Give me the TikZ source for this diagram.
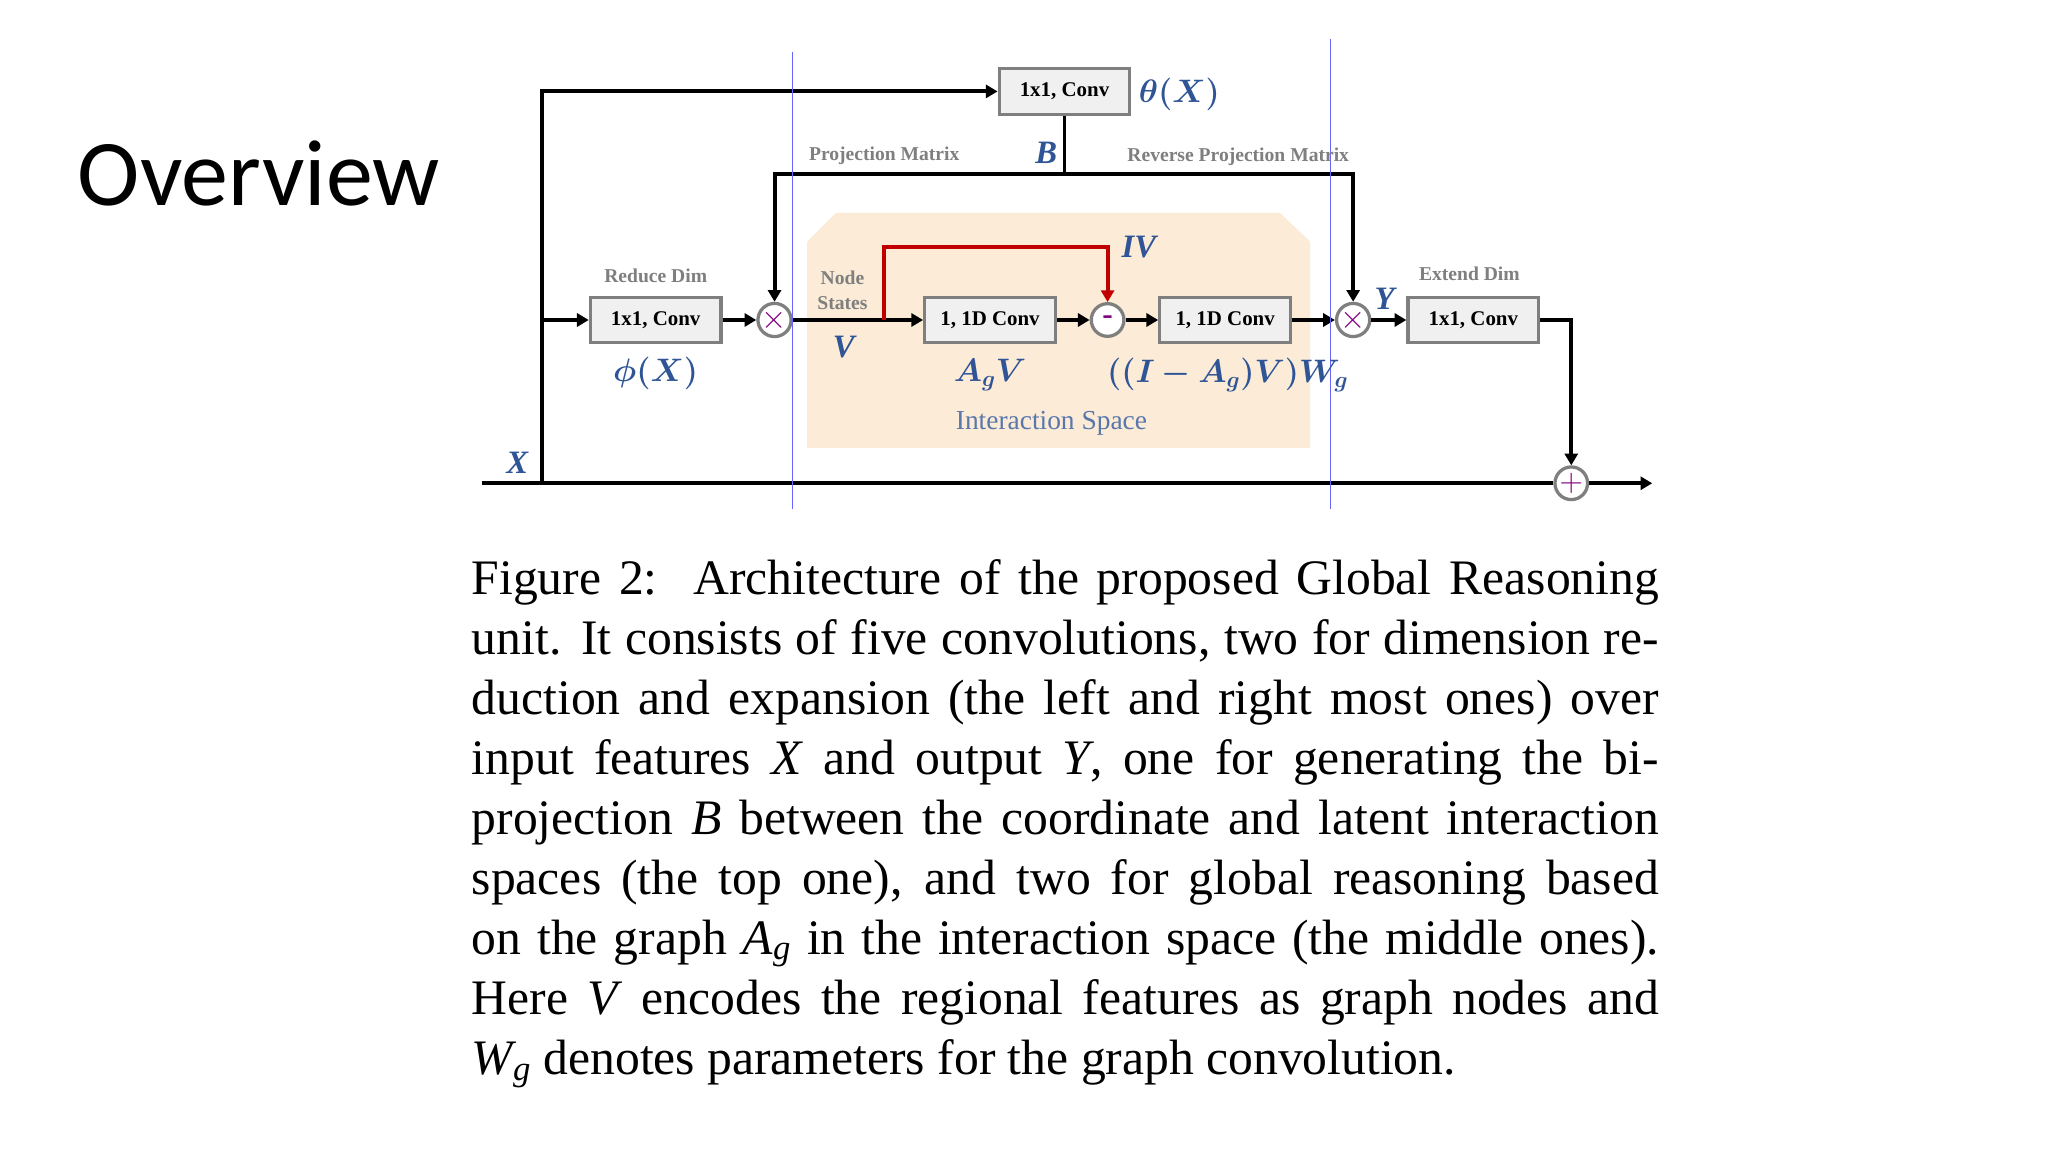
\documentclass[tikz,border=0pt]{standalone}
\usepackage{amsmath}
\usepackage{bm}
\usepackage{fontspec}
\setmainfont{Liberation Serif}
\newfontfamily\ovfont{Carlito}
\usetikzlibrary{arrows.meta}
\definecolor{mblue}{HTML}{2F5597}
\definecolor{peach}{HTML}{FCEBD6}
\definecolor{lgray}{HTML}{7F7F7F}
\definecolor{dred}{HTML}{C00000}
\begin{document}
\begin{tikzpicture}[x=1pt,y=-1pt,
  conv/.style={draw=lgray,line width=2.5pt,fill=black!6,minimum width=100pt,minimum height=35pt,inner sep=0pt,font=\fontsize{16}{18}\selectfont\bfseries},
  op/.style={circle,draw=lgray,line width=2.5pt,fill=white,minimum size=25pt,inner sep=0pt,font=\fontsize{24}{24}\selectfont\color{violet}},
  wire/.style={line width=3pt,-{Triangle[length=9pt,width=10pt]}},
  plainwire/.style={line width=3pt},
  glab/.style={text=lgray,font=\fontsize{15}{19}\selectfont\bfseries},
  blab/.style={text=mblue,font=\fontsize{25}{27}\selectfont\bfseries\itshape}]
\useasboundingbox (0,0) rectangle (1568,882);
\fill[white] (0,0) rectangle (1568,882);
% peach region
\fill[peach] (618,185) -- (640,163) -- (980,163) -- (1003,185) -- (1003,343) -- (618,343) -- cycle;
% nodes
\node[conv] (top) at (815,70) {1x1, Conv};
\node[conv] (c1) at (502,245) {1x1, Conv};
\node[op] (m1) at (593,245) {$\times$};
\node[conv] (c2) at (758,245) {1, 1D Conv};
\node[op] (sub) at (848,245) {\textbf{-}};
\node[conv] (c3) at (938,245) {1, 1D Conv};
\node[op] (m2) at (1036,245) {$\times$};
\node[conv] (c4) at (1128,245) {1x1, Conv};
\node[op] (add) at (1203,370) {$+$};
\coordinate (xin) at (369,370);
\coordinate (xout) at (1265,370);
\coordinate (xs) at (415,370);
\coordinate (bj) at (815,133);
\coordinate (split) at (677,245);
% wires
\draw[plainwire] (xin) -- (add.west);
\draw[wire] (add.east) -- (xout);
\draw[wire] (xs) |- (top.west);
\draw[wire] (xs |- c1) -- (c1.west);
\draw[wire] (c1.east) -- (m1.west);
\draw[wire] (m1.east) -- (c2.west);
\draw[wire] (c2.east) -- (sub.west);
\draw[wire] (sub.east) -- (c3.west);
\draw[wire] (c3.east) -- (m2.west);
\draw[wire] (m2.east) -- (c4.west);
\draw[wire] (c4.east) -| (add.north);
\draw[plainwire] (top.south) -- (bj);
\draw[wire] (bj) -| (m1.north);
\draw[wire] (bj) -| (m2.north);
\draw[line width=3pt,dred,-{Triangle[length=9pt,width=10pt]}] (split) |- (760,189) -| (sub.north);
% thin blue lines
\draw[blue!60,line width=0.8pt] (607,40) -- (607,390);
\draw[blue!60,line width=0.8pt] (1019,30) -- (1019,390);
% labels
\node[blab] (tx) at (903,72) {$\bm{\theta(X)}$};
\node[glab] (pm) at (677,119) {Projection Matrix};
\node[blab] (bl) at (801,117) {B};
\node[glab] (rpm) at (948,120) {Reverse Projection Matrix};
\node[glab] (rd) at (502,211) {Reduce Dim};
\node[blab] (phi) at (502,286) {$\bm{\phi(X)}$};
\node[glab,align=center] (ns) at (645,222) {Node\\States};
\node[blab] (vl) at (646,266) {V};
\node[blab] (agv) at (758,287) {$\bm{A_gV}$};
\node[blab] (eq) at (940,287) {$\bm{((I-A_g)V)W_g}$};
\node[text=mblue!80,font=\fontsize{21}{23}\selectfont] (is) at (805,324) {Interaction Space};
\node[blab] (iv) at (872,189) {IV};
\node[glab] (ed) at (1125,210) {Extend Dim};
\node[blab] (yl) at (1060,229) {Y};
\node[blab] (xl) at (396,354) {X};
\node[font=\ovfont\fontsize{72}{80}\selectfont,anchor=west] (ov) at (56,133) {Overview};
\node[anchor=north west,inner sep=0pt,text width=909pt,align=justify,font=\fontsize{38}{46}\selectfont] (cap) at (361,428) {Figure 2:\ \ Architecture of the proposed Global Reasoning\linebreak
unit. It consists of five convolutions, two for dimension re-\linebreak
duction and expansion (the left and right most ones) over\linebreak
input features \textit{X} and output \textit{Y}, one for generating the bi-\linebreak
projection \textit{B} between the coordinate and latent interaction\linebreak
spaces (the top one), and two for global reasoning based\linebreak
on the graph \textit{A\textsubscript{g}} in the interaction space (the middle ones).\linebreak
Here \textit{V} encodes the regional features as graph nodes and\linebreak
\textit{W\textsubscript{g}} denotes parameters for the graph convolution.};
\end{tikzpicture}
\end{document}
